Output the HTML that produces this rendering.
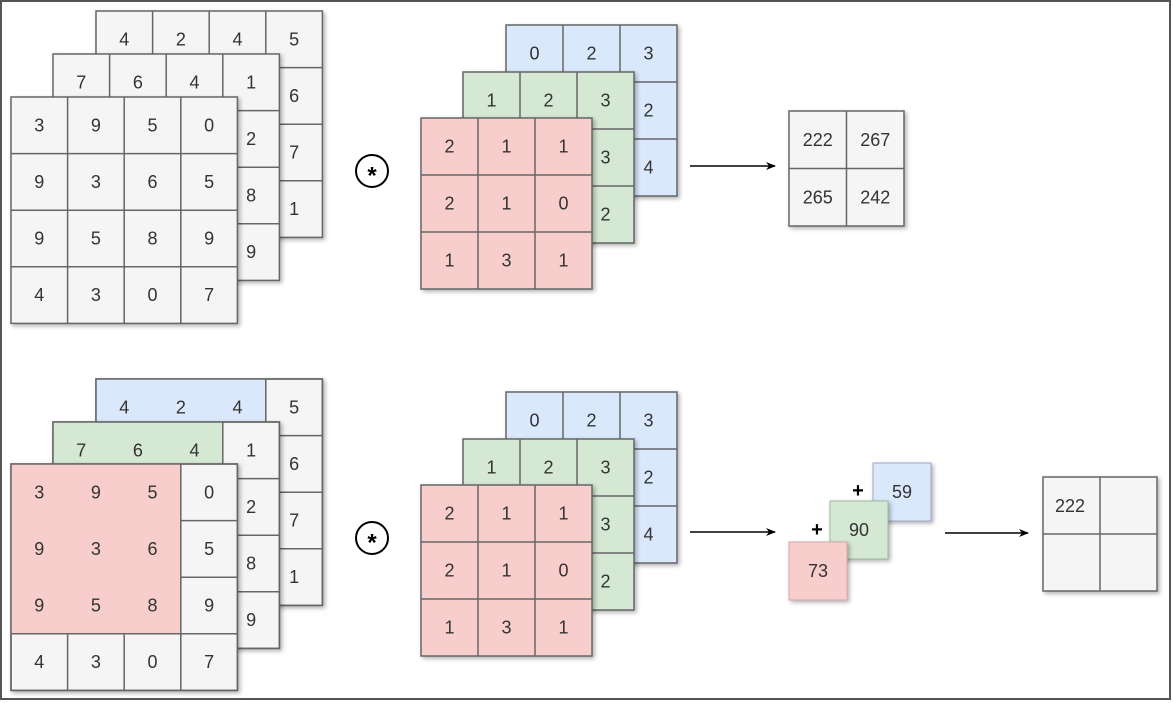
<!DOCTYPE html>
<html><head><meta charset="utf-8"><style>
html,body{margin:0;padding:0;background:#fff}
svg{display:block}
text{font-family:"Liberation Sans",sans-serif;font-size:18px;fill:#333;text-anchor:middle;dominant-baseline:central}
.g{filter:drop-shadow(2px 2px 2px rgba(0,0,0,.3))}
</style></head><body>
<svg width="1173" height="703" viewBox="0 0 1173 703" xmlns="http://www.w3.org/2000/svg">
<rect x="1" y="1" width="1169" height="698" fill="#fff" stroke="#555" stroke-width="2"/>
<defs>
<marker id="ar" markerWidth="10" markerHeight="10" refX="9" refY="5" orient="auto" markerUnits="userSpaceOnUse"><path d="M0,1 L10,5 L0,9 L3,5 Z" fill="#000"/></marker>
</defs>

<g class="g" transform="translate(96,11)"><rect width="226.4" height="226.4" fill="#f5f5f5" stroke="#666" stroke-width="1.5"/><path d="M56.6 0V226.4M113.2 0V226.4M169.8 0V226.4M0 56.6H226.4M0 113.2H226.4M0 169.8H226.4" stroke="#666" stroke-width="1.5"/>
<text x="28.3" y="28.3">4</text><text x="84.9" y="28.3">2</text><text x="141.5" y="28.3">4</text><text x="198.1" y="28.3">5</text><text x="198.1" y="84.9">6</text><text x="198.1" y="141.5">7</text><text x="198.1" y="198.1">1</text></g>
<g class="g" transform="translate(53,54)"><rect width="226.4" height="226.4" fill="#f5f5f5" stroke="#666" stroke-width="1.5"/><path d="M56.6 0V226.4M113.2 0V226.4M169.8 0V226.4M0 56.6H226.4M0 113.2H226.4M0 169.8H226.4" stroke="#666" stroke-width="1.5"/>
<text x="28.3" y="28.3">7</text><text x="84.9" y="28.3">6</text><text x="141.5" y="28.3">4</text><text x="198.1" y="28.3">1</text><text x="198.1" y="84.9">2</text><text x="198.1" y="141.5">8</text><text x="198.1" y="198.1">9</text></g>
<g class="g" transform="translate(11,97)"><rect width="226.4" height="226.4" fill="#f5f5f5" stroke="#666" stroke-width="1.5"/><path d="M56.6 0V226.4M113.2 0V226.4M169.8 0V226.4M0 56.6H226.4M0 113.2H226.4M0 169.8H226.4" stroke="#666" stroke-width="1.5"/>
<text x="28.3" y="28.3">3</text><text x="84.9" y="28.3">9</text><text x="141.5" y="28.3">5</text><text x="198.1" y="28.3">0</text>
<text x="28.3" y="84.9">9</text><text x="84.9" y="84.9">3</text><text x="141.5" y="84.9">6</text><text x="198.1" y="84.9">5</text>
<text x="28.3" y="141.5">9</text><text x="84.9" y="141.5">5</text><text x="141.5" y="141.5">8</text><text x="198.1" y="141.5">9</text>
<text x="28.3" y="198.1">4</text><text x="84.9" y="198.1">3</text><text x="141.5" y="198.1">0</text><text x="198.1" y="198.1">7</text></g>

<g class="g" transform="translate(96,379)"><rect width="226.4" height="226.4" fill="#f5f5f5" stroke="#666" stroke-width="1.5"/><rect x="0" y="0" width="169.8" height="169.8" fill="#dae8fc"/><path d="M169.8 0V226.4M169.8 56.6H226.4M169.8 113.2H226.4M0 169.8H226.4" stroke="#666" stroke-width="1.5"/><rect width="226.4" height="226.4" fill="none" stroke="#666" stroke-width="1.5"/>
<text x="28.3" y="28.3">4</text><text x="84.9" y="28.3">2</text><text x="141.5" y="28.3">4</text><text x="198.1" y="28.3">5</text><text x="198.1" y="84.9">6</text><text x="198.1" y="141.5">7</text><text x="198.1" y="198.1">1</text></g>
<g class="g" transform="translate(53,422)"><rect width="226.4" height="226.4" fill="#f5f5f5" stroke="#666" stroke-width="1.5"/><rect x="0" y="0" width="169.8" height="169.8" fill="#d5e8d4"/><path d="M169.8 0V226.4M169.8 56.6H226.4M169.8 113.2H226.4M0 169.8H226.4" stroke="#666" stroke-width="1.5"/><rect width="226.4" height="226.4" fill="none" stroke="#666" stroke-width="1.5"/>
<text x="28.3" y="28.3">7</text><text x="84.9" y="28.3">6</text><text x="141.5" y="28.3">4</text><text x="198.1" y="28.3">1</text><text x="198.1" y="84.9">2</text><text x="198.1" y="141.5">8</text><text x="198.1" y="198.1">9</text></g>
<g class="g" transform="translate(11,464)"><rect width="226.4" height="226.4" fill="#f5f5f5" stroke="#666" stroke-width="1.5"/><rect x="0" y="0" width="169.8" height="169.8" fill="#f8cecc"/><path d="M169.8 0V226.4M56.6 169.8V226.4M113.2 169.8V226.4M169.8 56.6H226.4M169.8 113.2H226.4M0 169.8H226.4" stroke="#666" stroke-width="1.5"/><rect width="226.4" height="226.4" fill="none" stroke="#666" stroke-width="1.5"/>
<text x="28.3" y="28.3">3</text><text x="84.9" y="28.3">9</text><text x="141.5" y="28.3">5</text><text x="198.1" y="28.3">0</text>
<text x="28.3" y="84.9">9</text><text x="84.9" y="84.9">3</text><text x="141.5" y="84.9">6</text><text x="198.1" y="84.9">5</text>
<text x="28.3" y="141.5">9</text><text x="84.9" y="141.5">5</text><text x="141.5" y="141.5">8</text><text x="198.1" y="141.5">9</text>
<text x="28.3" y="198.1">4</text><text x="84.9" y="198.1">3</text><text x="141.5" y="198.1">0</text><text x="198.1" y="198.1">7</text></g>

<circle cx="372" cy="171" r="16" fill="none" stroke="#000" stroke-width="2"/><text x="372" y="176" style="font-size:24px;fill:#000;font-weight:bold">*</text>
<circle cx="372" cy="538" r="16" fill="none" stroke="#000" stroke-width="2"/><text x="372" y="543" style="font-size:24px;fill:#000;font-weight:bold">*</text>

<g class="g" transform="translate(506,25)"><rect width="171" height="171" fill="#dae8fc" stroke="#666" stroke-width="1.5"/><path d="M57 0V171M114 0V171M0 57H171M0 114H171" stroke="#666" stroke-width="1.5"/>
<text x="28.5" y="28.5">0</text><text x="85.5" y="28.5">2</text><text x="142.5" y="28.5">3</text><text x="142.5" y="85.5">2</text><text x="142.5" y="142.5">4</text></g>
<g class="g" transform="translate(463,72)"><rect width="171" height="171" fill="#d5e8d4" stroke="#666" stroke-width="1.5"/><path d="M57 0V171M114 0V171M0 57H171M0 114H171" stroke="#666" stroke-width="1.5"/>
<text x="28.5" y="28.5">1</text><text x="85.5" y="28.5">2</text><text x="142.5" y="28.5">3</text><text x="142.5" y="85.5">3</text><text x="142.5" y="142.5">2</text></g>
<g class="g" transform="translate(421,118)"><rect width="171" height="171" fill="#f8cecc" stroke="#666" stroke-width="1.5"/><path d="M57 0V171M114 0V171M0 57H171M0 114H171" stroke="#666" stroke-width="1.5"/>
<text x="28.5" y="28.5">2</text><text x="85.5" y="28.5">1</text><text x="142.5" y="28.5">1</text><text x="28.5" y="85.5">2</text><text x="85.5" y="85.5">1</text><text x="142.5" y="85.5">0</text><text x="28.5" y="142.5">1</text><text x="85.5" y="142.5">3</text><text x="142.5" y="142.5">1</text></g>

<g class="g" transform="translate(506,392)"><rect width="171" height="171" fill="#dae8fc" stroke="#666" stroke-width="1.5"/><path d="M57 0V171M114 0V171M0 57H171M0 114H171" stroke="#666" stroke-width="1.5"/>
<text x="28.5" y="28.5">0</text><text x="85.5" y="28.5">2</text><text x="142.5" y="28.5">3</text><text x="142.5" y="85.5">2</text><text x="142.5" y="142.5">4</text></g>
<g class="g" transform="translate(463,439)"><rect width="171" height="171" fill="#d5e8d4" stroke="#666" stroke-width="1.5"/><path d="M57 0V171M114 0V171M0 57H171M0 114H171" stroke="#666" stroke-width="1.5"/>
<text x="28.5" y="28.5">1</text><text x="85.5" y="28.5">2</text><text x="142.5" y="28.5">3</text><text x="142.5" y="85.5">3</text><text x="142.5" y="142.5">2</text></g>
<g class="g" transform="translate(421,485)"><rect width="171" height="171" fill="#f8cecc" stroke="#666" stroke-width="1.5"/><path d="M57 0V171M114 0V171M0 57H171M0 114H171" stroke="#666" stroke-width="1.5"/>
<text x="28.5" y="28.5">2</text><text x="85.5" y="28.5">1</text><text x="142.5" y="28.5">1</text><text x="28.5" y="85.5">2</text><text x="85.5" y="85.5">1</text><text x="142.5" y="85.5">0</text><text x="28.5" y="142.5">1</text><text x="85.5" y="142.5">3</text><text x="142.5" y="142.5">1</text></g>

<line x1="690" y1="166" x2="775" y2="166" stroke="#000" stroke-width="1.5" marker-end="url(#ar)"/>
<line x1="690" y1="532" x2="775" y2="532" stroke="#000" stroke-width="1.5" marker-end="url(#ar)"/>
<line x1="945" y1="533" x2="1028" y2="533" stroke="#000" stroke-width="1.5" marker-end="url(#ar)"/>

<g class="g" transform="translate(789,111)"><rect width="115" height="115" fill="#f5f5f5" stroke="#666" stroke-width="1.5"/><path d="M57.5 0V115M0 57.5H115" stroke="#666" stroke-width="1.5"/>
<text x="28.75" y="28.75">222</text><text x="86.25" y="28.75">267</text><text x="28.75" y="86.25">265</text><text x="86.25" y="86.25">242</text></g>

<g class="g"><rect x="873" y="463" width="58" height="58" fill="#dae8fc" stroke="#9aa8c8" stroke-width="1"/><text x="902" y="492">59</text></g>
<g class="g"><rect x="830" y="501" width="58" height="58" fill="#d5e8d4" stroke="#9ab89a" stroke-width="1"/><text x="859" y="530">90</text></g>
<g class="g"><rect x="789" y="542" width="58" height="58" fill="#f8cecc" stroke="#d8a8a8" stroke-width="1"/><text x="818" y="571">73</text></g>
<text x="858" y="491" style="font-size:20px;fill:#000;font-weight:bold">+</text>
<text x="817" y="530" style="font-size:20px;fill:#000;font-weight:bold">+</text>

<g class="g" transform="translate(1043,477)"><rect width="114" height="114" fill="#f5f5f5" stroke="#666" stroke-width="1.5"/><path d="M57 0V114M0 57H114" stroke="#666" stroke-width="1.5"/>
<text x="27" y="29">222</text></g>
</svg>
</body></html>
